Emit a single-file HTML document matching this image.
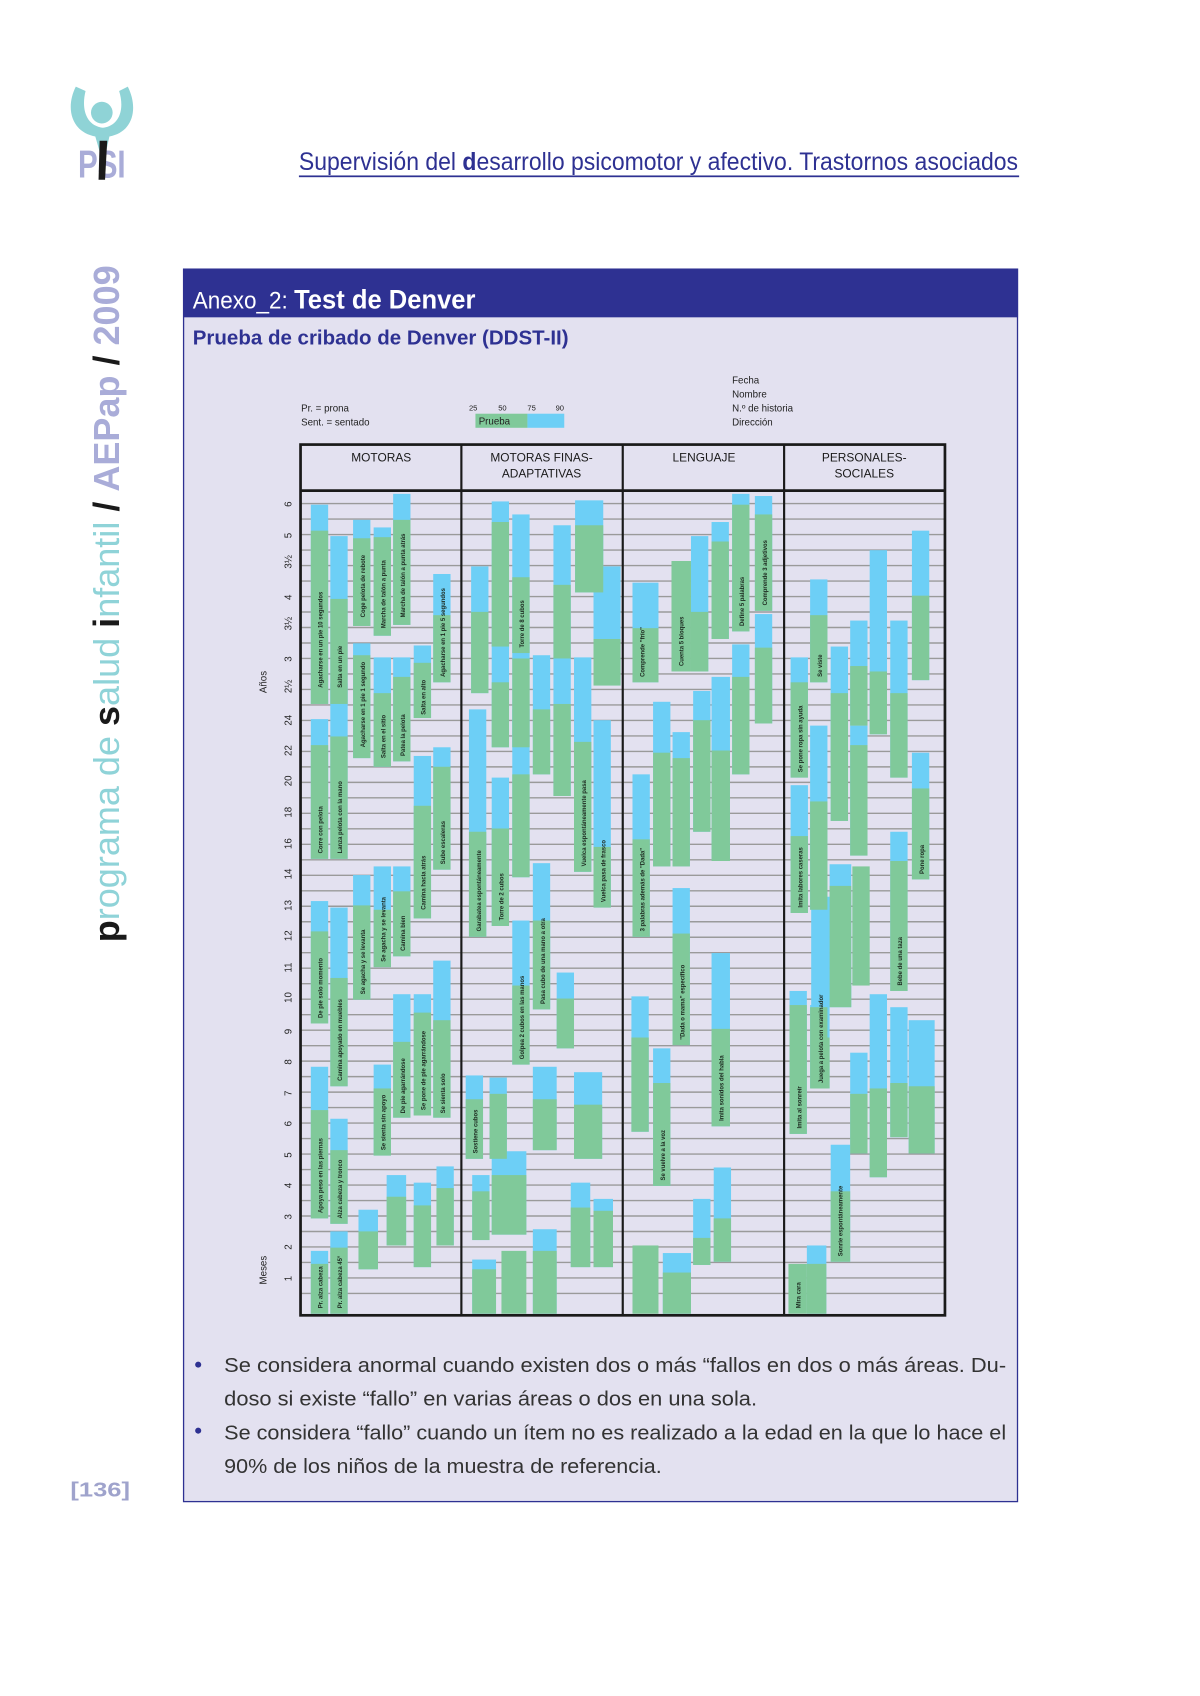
<!DOCTYPE html>
<html><head><meta charset="utf-8"><style>
html,body{margin:0;padding:0;background:#fff;width:1200px;height:1696px;overflow:hidden}
svg{display:block}
text{font-family:"Liberation Sans",sans-serif}
</style></head><body>
<svg width="1200" height="1696" viewBox="0 0 1108 1566" preserveAspectRatio="none" xmlns="http://www.w3.org/2000/svg">
<!-- logo -->
<g>
<path d="M70 80 C60 100 66 122 88 126 L92 140 L98 140 L101 126 C123 122 128 100 118 80 L110 84 C115 100 111 116 95 118 C79 116 75 100 79 84 Z" fill="#8fd3d6"/>
<circle cx="94" cy="104" r="10" fill="#8fd3d6"/>
<text x="72" y="164" font-family="Liberation Serif" font-size="36" font-weight="bold" fill="#a9acd8" textLength="44" lengthAdjust="spacingAndGlyphs">PSI</text>
<path d="M92 130 L99 130 L97 166 L91 166 Z" fill="#1a1a1a"/>
</g>
<!-- vertical side text -->
<text transform="translate(110,870) rotate(-90)" font-size="33" font-weight="bold" textLength="625" lengthAdjust="spacingAndGlyphs"><tspan fill="#1a1a1a">p</tspan><tspan fill="#8fd3d8" font-weight="normal">rograma de </tspan><tspan fill="#1a1a1a">s</tspan><tspan fill="#8fd3d8" font-weight="normal">alud </tspan><tspan fill="#1a1a1a">i</tspan><tspan fill="#8fd3d8" font-weight="normal">nfantil </tspan><tspan fill="#1a1a1a">/ </tspan><tspan fill="#a9acd8">AEPap </tspan><tspan fill="#1a1a1a">/ </tspan><tspan fill="#a9acd8">2009</tspan></text>
<!-- header title -->
<text x="276" y="157" font-size="23" fill="#2e3192" textLength="664" lengthAdjust="spacingAndGlyphs">Supervisión del <tspan font-weight="bold">d</tspan>esarrollo psicomotor y afectivo. Trastornos asociados</text>
<rect x="276" y="162" width="665" height="1.6" fill="#2e3192"/>
<!-- box -->
<rect x="169.5" y="248.5" width="770" height="1138" fill="#e3e1f0" stroke="#2e3192" stroke-width="1.2"/>
<rect x="169" y="248" width="771" height="45" fill="#2e3192"/>
<text x="178" y="285" font-size="22" fill="#fff" textLength="261" lengthAdjust="spacingAndGlyphs">Anexo_2: <tspan font-weight="bold" font-size="25">Test de Denver</tspan></text>
<text x="178" y="318" font-size="19" font-weight="bold" fill="#2e3192" textLength="347" lengthAdjust="spacingAndGlyphs">Prueba de cribado de Denver (DDST-II)</text>
<!-- legend -->
<g font-size="9" fill="#222">
<text x="278" y="380">Pr. = prona</text>
<text x="278" y="393">Sent. = sentado</text>
<text x="676" y="354">Fecha</text>
<text x="676" y="367">Nombre</text>
<text x="676" y="380">N.º de historia</text>
<text x="676" y="393">Dirección</text>
<text x="433" y="379" font-size="7">25</text><text x="460" y="379" font-size="7">50</text><text x="487" y="379" font-size="7">75</text><text x="513" y="379" font-size="7">90</text>
</g>
<rect x="439" y="382" width="48" height="13" fill="#80c99a"/><rect x="487" y="382" width="34" height="13" fill="#6dcff6"/>
<text x="442" y="392" font-size="9" fill="#222">Prueba</text>
<!-- gridlines -->
<g stroke="#9a9a9a" stroke-width="1.3">
<line x1="278" x2="872" y1="465" y2="465"/><line x1="278" x2="872" y1="479.3" y2="479.3"/><line x1="278" x2="872" y1="493.6" y2="493.6"/><line x1="278" x2="872" y1="507.9" y2="507.9"/><line x1="278" x2="872" y1="522.2" y2="522.2"/><line x1="278" x2="872" y1="536.5" y2="536.5"/><line x1="278" x2="872" y1="550.8" y2="550.8"/><line x1="278" x2="872" y1="565.1" y2="565.1"/><line x1="278" x2="872" y1="579.4" y2="579.4"/><line x1="278" x2="872" y1="593.7" y2="593.7"/><line x1="278" x2="872" y1="608" y2="608"/><line x1="278" x2="872" y1="622.3" y2="622.3"/><line x1="278" x2="872" y1="636.6" y2="636.6"/><line x1="278" x2="872" y1="650.9" y2="650.9"/><line x1="278" x2="872" y1="665.2" y2="665.2"/><line x1="278" x2="872" y1="679.5" y2="679.5"/><line x1="278" x2="872" y1="693.8" y2="693.8"/><line x1="278" x2="872" y1="708.1" y2="708.1"/><line x1="278" x2="872" y1="722.4" y2="722.4"/><line x1="278" x2="872" y1="736.7" y2="736.7"/><line x1="278" x2="872" y1="751" y2="751"/><line x1="278" x2="872" y1="765.3" y2="765.3"/><line x1="278" x2="872" y1="779.6" y2="779.6"/><line x1="278" x2="872" y1="793.9" y2="793.9"/><line x1="278" x2="872" y1="808.2" y2="808.2"/><line x1="278" x2="872" y1="822.5" y2="822.5"/><line x1="278" x2="872" y1="836.8" y2="836.8"/><line x1="278" x2="872" y1="851.1" y2="851.1"/><line x1="278" x2="872" y1="865.4" y2="865.4"/><line x1="278" x2="872" y1="879.7" y2="879.7"/><line x1="278" x2="872" y1="894" y2="894"/><line x1="278" x2="872" y1="908.3" y2="908.3"/><line x1="278" x2="872" y1="922.6" y2="922.6"/><line x1="278" x2="872" y1="936.9" y2="936.9"/><line x1="278" x2="872" y1="951.2" y2="951.2"/><line x1="278" x2="872" y1="965.5" y2="965.5"/><line x1="278" x2="872" y1="979.8" y2="979.8"/><line x1="278" x2="872" y1="994.1" y2="994.1"/><line x1="278" x2="872" y1="1008.4" y2="1008.4"/><line x1="278" x2="872" y1="1022.7" y2="1022.7"/><line x1="278" x2="872" y1="1037" y2="1037"/><line x1="278" x2="872" y1="1051.3" y2="1051.3"/><line x1="278" x2="872" y1="1065.6" y2="1065.6"/><line x1="278" x2="872" y1="1079.9" y2="1079.9"/><line x1="278" x2="872" y1="1094.2" y2="1094.2"/><line x1="278" x2="872" y1="1108.5" y2="1108.5"/><line x1="278" x2="872" y1="1122.8" y2="1122.8"/><line x1="278" x2="872" y1="1137.1" y2="1137.1"/><line x1="278" x2="872" y1="1151.4" y2="1151.4"/><line x1="278" x2="872" y1="1165.7" y2="1165.7"/><line x1="278" x2="872" y1="1180" y2="1180"/><line x1="278" x2="872" y1="1194.3" y2="1194.3"/>
</g>
<!-- y labels -->
<g font-size="9" fill="#222">
<text transform="translate(269,468) rotate(-90)">6</text><text transform="translate(269,497) rotate(-90)">5</text><text transform="translate(269,525) rotate(-90)">3½</text><text transform="translate(269,554) rotate(-90)">4</text><text transform="translate(269,582) rotate(-90)">3½</text><text transform="translate(269,611) rotate(-90)">3</text><text transform="translate(269,640) rotate(-90)">2½</text><text transform="translate(269,670) rotate(-90)">24</text><text transform="translate(269,698) rotate(-90)">22</text><text transform="translate(269,726) rotate(-90)">20</text><text transform="translate(269,755) rotate(-90)">18</text><text transform="translate(269,784) rotate(-90)">16</text><text transform="translate(269,812) rotate(-90)">14</text><text transform="translate(269,841) rotate(-90)">13</text><text transform="translate(269,869) rotate(-90)">12</text><text transform="translate(269,898) rotate(-90)">11</text><text transform="translate(269,926) rotate(-90)">10</text><text transform="translate(269,955) rotate(-90)">9</text><text transform="translate(269,983) rotate(-90)">8</text><text transform="translate(269,1012) rotate(-90)">7</text><text transform="translate(269,1040) rotate(-90)">6</text><text transform="translate(269,1069) rotate(-90)">5</text><text transform="translate(269,1097) rotate(-90)">4</text><text transform="translate(269,1126) rotate(-90)">3</text><text transform="translate(269,1154) rotate(-90)">2</text><text transform="translate(269,1183) rotate(-90)">1</text>
<text transform="translate(246,640) rotate(-90)">Años</text>
<text transform="translate(246,1186) rotate(-90)">Meses</text>
</g>
<!-- bars: blue full, green lower -->
<g fill="#6dcff6">
<rect x="287" y="466" width="16" height="184"/><rect x="305" y="495" width="16" height="155"/><rect x="326" y="480" width="16" height="98"/><rect x="345" y="487" width="16" height="100"/><rect x="363" y="456" width="16" height="121"/><rect x="400" y="530" width="16" height="100"/>
<rect x="326" y="594" width="16" height="106"/><rect x="345" y="607" width="16" height="101"/><rect x="363" y="607" width="16" height="96"/><rect x="382" y="596" width="16" height="67"/><rect x="287" y="664" width="16" height="129"/><rect x="305" y="631" width="16" height="162"/><rect x="382" y="698" width="16" height="150"/><rect x="400" y="690" width="16" height="113"/>
<rect x="326" y="808" width="16" height="115"/><rect x="345" y="800" width="16" height="93"/><rect x="363" y="800" width="16" height="83"/><rect x="287" y="832" width="16" height="113"/><rect x="305" y="838" width="16" height="165"/><rect x="363" y="918" width="16" height="114"/><rect x="382" y="918" width="16" height="112"/><rect x="400" y="887" width="16" height="145"/><rect x="345" y="983" width="16" height="84"/><rect x="287" y="985" width="16" height="140"/><rect x="305" y="1033" width="16" height="97"/><rect x="331" y="1117" width="18" height="55"/><rect x="357" y="1085" width="18" height="65"/><rect x="382" y="1092" width="16" height="78"/><rect x="403" y="1077" width="16" height="73"/><rect x="287" y="1155" width="16" height="58"/><rect x="305" y="1137" width="16" height="76"/>
<rect x="435" y="523" width="16" height="117"/><rect x="454" y="463" width="16" height="134"/><rect x="473" y="475" width="16" height="128"/><rect x="511" y="485" width="16" height="123"/><rect x="531" y="462" width="26" height="85"/><rect x="548" y="523" width="25" height="110"/>
<rect x="454" y="591" width="16" height="99"/><rect x="473" y="590" width="16" height="100"/><rect x="492" y="605" width="16" height="110"/><rect x="511" y="607" width="16" height="128"/><rect x="530" y="607" width="16" height="198"/><rect x="548" y="665" width="16" height="173"/><rect x="433" y="655" width="16" height="210"/><rect x="454" y="718" width="16" height="137"/><rect x="473" y="655" width="16" height="155"/><rect x="492" y="797" width="16" height="135"/><rect x="473" y="850" width="16" height="133"/><rect x="514" y="898" width="16" height="70"/>
<rect x="430" y="993" width="16" height="77"/><rect x="452" y="995" width="16" height="75"/><rect x="492" y="985" width="22" height="77"/><rect x="530" y="990" width="26" height="80"/><rect x="436" y="1085" width="16" height="60"/><rect x="454" y="1063" width="32" height="77"/><rect x="527" y="1092" width="18" height="78"/><rect x="548" y="1107" width="18" height="63"/><rect x="436" y="1163" width="22" height="50"/><rect x="492" y="1135" width="22" height="78"/>
<rect x="584" y="538" width="24" height="92"/><rect x="638" y="495" width="16" height="125"/><rect x="657" y="482" width="16" height="108"/><rect x="676" y="456" width="16" height="127"/><rect x="697" y="458" width="16" height="106"/><rect x="676" y="595" width="16" height="120"/><rect x="697" y="567" width="16" height="101"/><rect x="640" y="638" width="16" height="130"/><rect x="657" y="625" width="17" height="170"/><rect x="603" y="648" width="16" height="152"/><rect x="621" y="676" width="16" height="124"/><rect x="584" y="715" width="16" height="150"/><rect x="621" y="820" width="16" height="145"/><rect x="657" y="880" width="17" height="160"/><rect x="583" y="920" width="16" height="125"/><rect x="603" y="968" width="16" height="127"/><rect x="640" y="1107" width="16" height="61"/><rect x="659" y="1078" width="16" height="87"/><rect x="612" y="1157" width="26" height="56"/>
<rect x="730" y="607" width="16" height="111"/><rect x="748" y="535" width="16" height="95"/><rect x="767" y="597" width="16" height="108"/><rect x="785" y="573" width="16" height="97"/><rect x="803" y="508" width="16" height="170"/><rect x="822" y="573" width="16" height="145"/><rect x="842" y="490" width="16" height="138"/><rect x="730" y="725" width="16" height="118"/><rect x="748" y="670" width="16" height="170"/><rect x="767" y="665" width="16" height="93"/><rect x="785" y="670" width="16" height="120"/><rect x="842" y="695" width="16" height="117"/><rect x="749" y="828" width="17" height="177"/><rect x="766" y="798" width="20" height="132"/><rect x="822" y="768" width="16" height="147"/><rect x="729" y="915" width="16" height="132"/><rect x="748" y="928" width="16" height="77"/><rect x="785" y="972" width="16" height="93"/><rect x="803" y="918" width="16" height="169"/><rect x="822" y="930" width="16" height="120"/><rect x="839" y="942" width="24" height="123"/><rect x="767" y="1057" width="18" height="108"/><rect x="745" y="1150" width="18" height="63"/>
</g>
<g fill="#80c99a">
<rect x="287" y="490" width="16" height="160"/><rect x="305" y="553" width="16" height="97"/><rect x="326" y="497" width="16" height="81"/><rect x="345" y="496" width="16" height="91"/><rect x="363" y="480" width="16" height="97"/><rect x="400" y="568" width="16" height="62"/>
<rect x="326" y="605" width="16" height="95"/><rect x="345" y="640" width="16" height="68"/><rect x="363" y="625" width="16" height="78"/><rect x="382" y="612" width="16" height="51"/><rect x="287" y="688" width="16" height="105"/><rect x="305" y="680" width="16" height="113"/><rect x="382" y="744" width="16" height="104"/><rect x="400" y="708" width="16" height="95"/>
<rect x="326" y="836" width="16" height="87"/><rect x="345" y="840" width="16" height="53"/><rect x="363" y="823" width="16" height="60"/><rect x="287" y="860" width="16" height="85"/><rect x="305" y="903" width="16" height="100"/><rect x="363" y="962" width="16" height="70"/><rect x="382" y="935" width="16" height="95"/><rect x="400" y="942" width="16" height="90"/><rect x="345" y="1005" width="16" height="62"/><rect x="287" y="1025" width="16" height="100"/><rect x="305" y="1062" width="16" height="68"/><rect x="331" y="1137" width="18" height="35"/><rect x="357" y="1105" width="18" height="45"/><rect x="382" y="1113" width="16" height="57"/><rect x="403" y="1097" width="16" height="53"/><rect x="287" y="1167" width="16" height="46"/><rect x="305" y="1152" width="16" height="61"/>
<rect x="435" y="565" width="16" height="75"/><rect x="454" y="482" width="16" height="115"/><rect x="473" y="533" width="16" height="70"/><rect x="511" y="540" width="16" height="68"/><rect x="531" y="485" width="26" height="62"/><rect x="548" y="590" width="25" height="43"/>
<rect x="454" y="630" width="16" height="60"/><rect x="473" y="608" width="16" height="82"/><rect x="492" y="655" width="16" height="60"/><rect x="511" y="650" width="16" height="85"/><rect x="530" y="685" width="16" height="120"/><rect x="548" y="782" width="16" height="56"/><rect x="433" y="768" width="16" height="97"/><rect x="454" y="765" width="16" height="90"/><rect x="473" y="715" width="16" height="95"/><rect x="492" y="850" width="16" height="82"/><rect x="473" y="910" width="16" height="73"/><rect x="514" y="922" width="16" height="46"/>
<rect x="430" y="1015" width="16" height="55"/><rect x="452" y="1010" width="16" height="60"/><rect x="492" y="1015" width="22" height="47"/><rect x="530" y="1020" width="26" height="50"/><rect x="436" y="1100" width="16" height="45"/><rect x="454" y="1085" width="32" height="55"/><rect x="527" y="1115" width="18" height="55"/><rect x="548" y="1118" width="18" height="52"/><rect x="436" y="1172" width="22" height="41"/><rect x="463" y="1155" width="23" height="58"/><rect x="492" y="1155" width="22" height="58"/>
<rect x="584" y="580" width="24" height="50"/><rect x="620" y="518" width="18" height="102"/><rect x="638" y="565" width="16" height="55"/><rect x="657" y="500" width="16" height="90"/><rect x="676" y="466" width="16" height="117"/><rect x="697" y="475" width="16" height="89"/><rect x="676" y="625" width="16" height="90"/><rect x="697" y="598" width="16" height="70"/><rect x="640" y="665" width="16" height="103"/><rect x="657" y="693" width="17" height="102"/><rect x="603" y="695" width="16" height="105"/><rect x="621" y="700" width="16" height="100"/><rect x="584" y="775" width="16" height="90"/><rect x="621" y="862" width="16" height="103"/><rect x="657" y="950" width="17" height="90"/><rect x="583" y="958" width="16" height="87"/><rect x="603" y="1000" width="16" height="95"/><rect x="640" y="1143" width="16" height="25"/><rect x="659" y="1125" width="16" height="40"/><rect x="584" y="1150" width="24" height="63"/><rect x="612" y="1175" width="26" height="38"/>
<rect x="730" y="630" width="16" height="88"/><rect x="748" y="568" width="16" height="62"/><rect x="767" y="640" width="16" height="65"/><rect x="785" y="615" width="16" height="55"/><rect x="803" y="620" width="16" height="58"/><rect x="822" y="640" width="16" height="78"/><rect x="842" y="550" width="16" height="78"/><rect x="730" y="772" width="16" height="71"/><rect x="748" y="740" width="16" height="100"/><rect x="767" y="698" width="16" height="60"/><rect x="785" y="688" width="16" height="102"/><rect x="842" y="728" width="16" height="84"/><rect x="749" y="958" width="17" height="47"/><rect x="766" y="818" width="20" height="112"/><rect x="787" y="800" width="16" height="110"/><rect x="822" y="795" width="16" height="120"/><rect x="729" y="928" width="16" height="119"/><rect x="748" y="930" width="16" height="75"/><rect x="785" y="1010" width="16" height="55"/><rect x="803" y="1005" width="16" height="82"/><rect x="822" y="1000" width="16" height="50"/><rect x="839" y="1003" width="24" height="62"/><rect x="767" y="1100" width="18" height="65"/><rect x="745" y="1167" width="18" height="46"/><rect x="728" y="1167" width="17" height="46"/>
</g>
<!-- some bar labels -->
<g font-size="5.5" font-weight="bold" fill="#1c2a20">
<text transform="translate(298,635) rotate(-90)">Agacharse en un pie 10 segundos</text>
<text transform="translate(316,635) rotate(-90)">Salta en un pie</text>
<text transform="translate(337,570) rotate(-90)">Coge pelota de rebote</text>
<text transform="translate(356,580) rotate(-90)">Marcha de talón a punta</text>
<text transform="translate(374,570) rotate(-90)">Marcha de talón a punta atrás</text>
<text transform="translate(411,625) rotate(-90)">Agacharse en 1 pie 5 segundos</text>
<text transform="translate(337,690) rotate(-90)">Agacharse en 1 pie 1 segundo</text>
<text transform="translate(356,700) rotate(-90)">Salta en el sitio</text>
<text transform="translate(374,698) rotate(-90)">Patea la pelota</text>
<text transform="translate(393,660) rotate(-90)">Salta en alto</text>
<text transform="translate(298,788) rotate(-90)">Corre con pelota</text>
<text transform="translate(316,788) rotate(-90)">Lanza pelota con la mano</text>
<text transform="translate(393,840) rotate(-90)">Camina hacia atrás</text>
<text transform="translate(411,798) rotate(-90)">Sube escaleras</text>
<text transform="translate(298,940) rotate(-90)">De pie solo momento</text>
<text transform="translate(316,998) rotate(-90)">Camina apoyado en muebles</text>
<text transform="translate(337,918) rotate(-90)">Se agacha y se levanta</text>
<text transform="translate(356,888) rotate(-90)">Se agacha y se levanta</text>
<text transform="translate(374,878) rotate(-90)">Camina bien</text>
<text transform="translate(374,1028) rotate(-90)">De pie agarrándose</text>
<text transform="translate(393,1025) rotate(-90)">Se pone de pie agarrándose</text>
<text transform="translate(411,1028) rotate(-90)">Se sienta solo</text>
<text transform="translate(356,1062) rotate(-90)">Se sienta sin apoyo</text>
<text transform="translate(298,1120) rotate(-90)">Apoya peso en las piernas</text>
<text transform="translate(316,1125) rotate(-90)">Alza cabeza y tronco</text>
<text transform="translate(298,1208) rotate(-90)">Pr. alza cabeza</text>
<text transform="translate(316,1208) rotate(-90)">Pr. alza cabeza 45°</text>
<text transform="translate(444,860) rotate(-90)">Garabatea espontáneamente</text>
<text transform="translate(465,850) rotate(-90)">Torre de 2 cubos</text>
<text transform="translate(484,598) rotate(-90)">Torre de 8 cubos</text>
<text transform="translate(541,800) rotate(-90)">Vuelca espontáneamente pasa</text>
<text transform="translate(559,833) rotate(-90)">Vuelca pasa de frasco</text>
<text transform="translate(503,927) rotate(-90)">Pasa cubo de una mano a otra</text>
<text transform="translate(484,978) rotate(-90)">Golpea 2 cubos en las manos</text>
<text transform="translate(441,1065) rotate(-90)">Sostiene cubos</text>
<text transform="translate(595,625) rotate(-90)">Comprende "frío"</text>
<text transform="translate(631,615) rotate(-90)">Cuenta 5 bloques</text>
<text transform="translate(687,578) rotate(-90)">Define 5 palabras</text>
<text transform="translate(708,559) rotate(-90)">Comprende 3 adjetivos</text>
<text transform="translate(595,860) rotate(-90)">3 palabras además de "Dada"</text>
<text transform="translate(632,960) rotate(-90)">"Dada o mama" específico</text>
<text transform="translate(668,1035) rotate(-90)">Imita sonidos del habla</text>
<text transform="translate(614,1090) rotate(-90)">Se vuelve a la voz</text>
<text transform="translate(741,713) rotate(-90)">Se pone ropa sin ayuda</text>
<text transform="translate(759,625) rotate(-90)">Se viste</text>
<text transform="translate(741,838) rotate(-90)">Imita labores caseras</text>
<text transform="translate(760,1000) rotate(-90)">Juega a pelota con examinador</text>
<text transform="translate(833,910) rotate(-90)">Bebe de una taza</text>
<text transform="translate(853,807) rotate(-90)">Pone ropa</text>
<text transform="translate(740,1042) rotate(-90)">Imita al sonreír</text>
<text transform="translate(778,1160) rotate(-90)">Sonríe espontáneamente</text>
<text transform="translate(739,1208) rotate(-90)">Mira cara</text>
</g>
<!-- frame -->
<g stroke="#1a1a1a" fill="none">
<rect x="277.5" y="410.5" width="595" height="804" stroke-width="2.5"/>
<line x1="277" x2="873" y1="453" y2="453" stroke-width="2.5"/>
<line x1="426" x2="426" y1="410" y2="1215" stroke-width="2"/>
<line x1="575" x2="575" y1="410" y2="1215" stroke-width="2"/>
<line x1="724" x2="724" y1="410" y2="1215" stroke-width="2"/>
</g>
<g font-size="11" fill="#1a1a1a" text-anchor="middle">
<text x="352" y="426">MOTORAS</text>
<text x="500" y="426">MOTORAS FINAS-</text><text x="500" y="441">ADAPTATIVAS</text>
<text x="650" y="426">LENGUAJE</text>
<text x="798" y="426">PERSONALES-</text><text x="798" y="441">SOCIALES</text>
</g>
<!-- bullets -->
<g font-size="18.5" fill="#333">
<circle cx="183" cy="1260" r="2.8" fill="#2e3192"/>
<circle cx="183" cy="1321" r="2.8" fill="#2e3192"/>
<text x="207" y="1267" textLength="722" lengthAdjust="spacingAndGlyphs">Se considera anormal cuando existen dos o más “fallos en dos o más áreas. Du-</text>
<text x="207" y="1298" textLength="492" lengthAdjust="spacingAndGlyphs">doso si existe “fallo” en varias áreas o dos en una sola.</text>
<text x="207" y="1329" textLength="722" lengthAdjust="spacingAndGlyphs">Se considera “fallo” cuando un ítem no es realizado a la edad en la que lo hace el</text>
<text x="207" y="1360" textLength="404" lengthAdjust="spacingAndGlyphs">90% de los niños de la muestra de referencia.</text>
</g>
<text x="65" y="1382" font-size="19" font-weight="bold" fill="#9fa3cc" textLength="55" lengthAdjust="spacingAndGlyphs">[136]</text>
</svg>
</body></html>
